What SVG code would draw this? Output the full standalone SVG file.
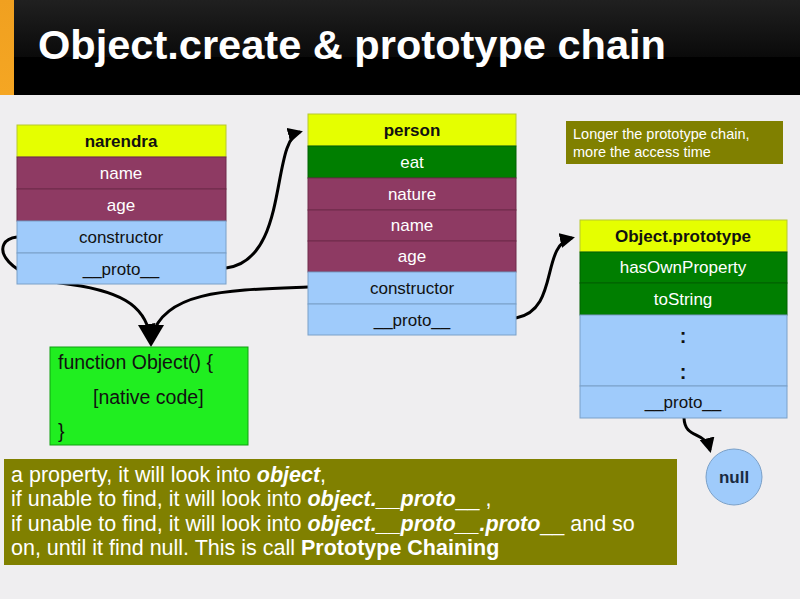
<svg xmlns="http://www.w3.org/2000/svg" width="800" height="599" viewBox="0 0 800 599">
<defs>
<linearGradient id="hd" x1="0" y1="0" x2="0" y2="1"><stop offset="0" stop-color="#202020"/><stop offset="0.6" stop-color="#0a0a0a"/><stop offset="0.6" stop-color="#000"/><stop offset="1" stop-color="#000"/></linearGradient>
<linearGradient id="or" x1="0" y1="0" x2="0" y2="1"><stop offset="0" stop-color="#f0a020"/><stop offset="1" stop-color="#f5a623"/></linearGradient>
<marker id="ah" viewBox="0 0 10 10" refX="8" refY="5" markerWidth="5" markerHeight="5" orient="auto"><path d="M0,0 L10,5 L0,10 z" fill="#000"/></marker>
</defs>
<style>
text{font-family:"Liberation Sans",Arial,sans-serif;font-size:17px;text-anchor:middle}
.y{fill:#e5ff00;stroke:#b8c830;stroke-width:1}
.m{fill:#8e3a63;stroke:#6e2a4a;stroke-width:1}
.g{fill:#007e00;stroke:#006000;stroke-width:1}
.b{fill:#9fcbfb;stroke:#7aa0c8;stroke-width:1}
.w{fill:#fff}
.k{fill:#111}
.c{fill:none;stroke:#000;stroke-width:3}
.t{font-size:21.5px;text-anchor:start;fill:#fff}
</style>
<rect width="800" height="599" fill="#efeef0"/>
<rect width="800" height="95" fill="url(#hd)"/>
<rect width="14" height="95" fill="url(#or)"/>
<text x="38" y="59" style="font-size:40px;font-weight:bold;text-anchor:start;fill:#fff" textLength="628" lengthAdjust="spacingAndGlyphs">Object.create &amp; prototype chain</text>

<g id="connectors">
<path class="c" d="M226,268 C290,260 270,140 300,132" marker-end="url(#ah)"/>
<path class="c" d="M17,237 C-10,240 0,275 60,283 C120,290 145,305 150,336" marker-end="url(#ah)"/>
<path class="c" d="M308,287 C230,290 165,290 152,336"/>
<path d="M138,325 L164,325 L151,347 z" fill="#000"/>
<path class="c" d="M516,318 C560,310 540,245 572,238" marker-end="url(#ah)"/>
<path class="c" d="M684,418 C685,440 705,430 710,450" marker-end="url(#ah)"/>
</g>

<g id="narendra">
<rect class="y" x="17" y="125" width="209" height="32"/><text x="121" y="147" class="k" style="font-weight:bold">narendra</text>
<rect class="m" x="17" y="157" width="209" height="32"/><text x="121" y="179" class="w">name</text>
<rect class="m" x="17" y="189" width="209" height="32"/><text x="121" y="211" class="w">age</text>
<rect class="b" x="17" y="221" width="209" height="32"/><text x="121" y="243" class="k">constructor</text>
<rect class="b" x="17" y="253" width="209" height="31"/><text x="121" y="275" class="k">__proto__</text>
</g>

<g id="person">
<rect class="y" x="308" y="114" width="208" height="32"/><text x="412" y="136" class="k" style="font-weight:bold">person</text>
<rect class="g" x="308" y="146" width="208" height="32"/><text x="412" y="168" class="w">eat</text>
<rect class="m" x="308" y="178" width="208" height="32"/><text x="412" y="200" class="w">nature</text>
<rect class="m" x="308" y="210" width="208" height="31"/><text x="412" y="231" class="w">name</text>
<rect class="m" x="308" y="241" width="208" height="31"/><text x="412" y="262" class="w">age</text>
<rect class="b" x="308" y="272" width="208" height="32"/><text x="412" y="294" class="k">constructor</text>
<rect class="b" x="308" y="304" width="208" height="31"/><text x="412" y="326" class="k">__proto__</text>
</g>

<g id="objectprototype">
<rect class="y" x="580" y="220" width="207" height="32"/><text x="683" y="242" class="k" style="font-weight:bold">Object.prototype</text>
<rect class="g" x="580" y="252" width="207" height="31"/><text x="683" y="273" class="w">hasOwnProperty</text>
<rect class="g" x="580" y="283" width="207" height="32"/><text x="683" y="305" class="w">toString</text>
<rect class="b" x="580" y="315" width="207" height="71"/>
<text x="683" y="343" class="k" style="font-weight:bold;font-size:20px">:</text>
<text x="683" y="379" class="k" style="font-weight:bold;font-size:20px">:</text>
<rect class="b" x="580" y="386" width="207" height="32"/><text x="683" y="408" class="k">__proto__</text>
</g>

<g id="function">
<rect x="50" y="347" width="198" height="98" fill="#20ee20" stroke="#10a010"/>
<text x="58" y="369" class="k" style="text-anchor:start;font-size:19.5px">function Object() {</text>
<text x="93" y="404" class="k" style="text-anchor:start;font-size:19.5px">[native code]</text>
<text x="58" y="438" class="k" style="text-anchor:start;font-size:19.5px">}</text>
</g>

<g id="null">
<circle cx="734" cy="477" r="28" fill="#9fcbfb" stroke="#7aa0c8"/>
<text x="734" y="483" style="font-weight:bold;fill:#1a2a40">null</text>
</g>

<g id="note">
<rect x="566" y="121" width="217" height="43" fill="#808000"/>
<text x="573" y="139" class="w" style="text-anchor:start;font-size:14.5px">Longer the prototype chain,</text>
<text x="573" y="157" class="w" style="text-anchor:start;font-size:14.5px">more the access time</text>
</g>

<g id="explain">
<rect x="4" y="459" width="673" height="106" fill="#808000"/>
<text x="11" y="482" class="t">a property, it will look into <tspan font-weight="bold" font-style="italic">object</tspan>,</text>
<text x="11" y="506" class="t">if unable to find, it will look into <tspan font-weight="bold" font-style="italic">object.__proto</tspan>__ ,</text>
<text x="11" y="531" class="t">if unable to find, it will look into <tspan font-weight="bold" font-style="italic">object.__proto__.proto</tspan>__ and so</text>
<text x="11" y="555" class="t">on, until it find null. This is call <tspan font-weight="bold">Prototype Chaining</tspan></text>
</g>
</svg>
